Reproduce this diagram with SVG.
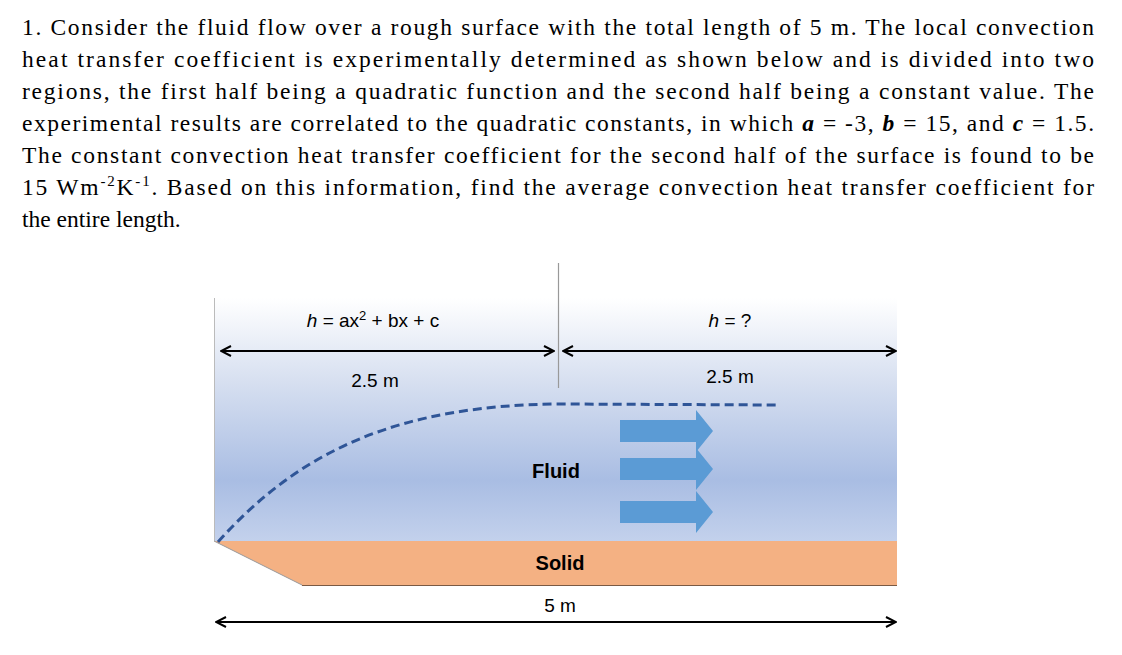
<svg xmlns="http://www.w3.org/2000/svg" width="1122" height="655" viewBox="0 0 1122 655">
<style>
.p{font-family:"Liberation Serif",serif;font-size:23.5px;fill:#000}
.s{font-family:"Liberation Sans",Arial,sans-serif;font-size:19px;fill:#000}
.b{font-family:"Liberation Sans",Arial,sans-serif;font-size:20px;font-weight:bold;fill:#000}
.dim{stroke:#000;stroke-width:2;fill:none;marker-start:url(#ah);marker-end:url(#ah)}
</style>
<defs>
<linearGradient id="fl" x1="0" y1="0" x2="0" y2="1">
<stop offset="0" stop-color="#ffffff"/>
<stop offset="0.35" stop-color="#d6dff0"/>
<stop offset="0.75" stop-color="#a9bde3"/>
<stop offset="1" stop-color="#c3d1ec"/>
</linearGradient>
<marker id="ah" viewBox="0 0 12 12" refX="11" refY="6" markerWidth="12" markerHeight="12" markerUnits="userSpaceOnUse" orient="auto-start-reverse">
<path d="M1,1 L11,6 L1,11" fill="none" stroke="#000" stroke-width="2"/>
</marker>
<path id="ba" d="M0,10 H76 V0 L93,21 L76,42 V32 H0 Z" fill="#5b9bd5"/>
</defs>
<rect width="1122" height="655" fill="#fff"/>
<g id="question">
<text class="p" x="22" y="35" textLength="1072" lengthAdjust="spacing">1. Consider the fluid flow over a rough surface with the total length of 5 m. The local convection</text>
<text class="p" x="22" y="67" textLength="1072" lengthAdjust="spacing">heat transfer coefficient is experimentally determined as shown below and is divided into two</text>
<text class="p" x="22" y="99" textLength="1072" lengthAdjust="spacing">regions, the first half being a quadratic function and the second half being a constant value. The</text>
<text class="p" x="22" y="131" textLength="1072" lengthAdjust="spacing">experimental results are correlated to the quadratic constants, in which <tspan font-weight="bold" font-style="italic">a</tspan> = -3, <tspan font-weight="bold" font-style="italic">b</tspan> = 15, and <tspan font-weight="bold" font-style="italic">c</tspan> = 1.5.</text>
<text class="p" x="22" y="163" textLength="1072" lengthAdjust="spacing">The constant convection heat transfer coefficient for the second half of the surface is found to be</text>
<text class="p" x="22" y="195" textLength="1072" lengthAdjust="spacing">15 Wm<tspan font-size="15" dy="-9">-2</tspan><tspan dy="9">K</tspan><tspan font-size="15" dy="-9">-1</tspan><tspan dy="9">. Based on this information, find the average convection heat transfer coefficient for</tspan></text>
<text class="p" x="22" y="227">the entire length.</text>
</g>
<g id="fluid">
<rect x="214" y="298" width="683" height="243" fill="url(#fl)"/>
<line x1="214.5" y1="298" x2="214.5" y2="541" stroke="#bbb" stroke-width="1"/>
<text class="b" x="556" y="478" text-anchor="middle">Fluid</text>
</g>
<g id="solid">
<path d="M214,541 H897 V585 H302 Z" fill="#f4b183"/>
<line x1="302" y1="585.5" x2="897" y2="585.5" stroke="#7a5a44" stroke-width="1"/>
<path d="M214,541 L302,585" stroke="#999" stroke-width="1" fill="none"/>
<text class="b" x="560" y="570" text-anchor="middle">Solid</text>
</g>
<g id="flow-arrows">
<use href="#ba" x="620" y="410"/>
<use href="#ba" x="620" y="448"/>
<use href="#ba" x="620" y="491"/>
</g>
<g id="boundary-layer">
<path d="M218,542 C300,450 400,405 560,404 L780,405" fill="none" stroke="#2f5597" stroke-width="3" stroke-dasharray="9,5"/>
</g>
<g id="connectors">
<line x1="558.5" y1="263" x2="558.5" y2="388" stroke="#999" stroke-width="1.2"/>
<line class="dim" x1="221" y1="351" x2="554" y2="351"/>
<line class="dim" x1="563" y1="351" x2="896" y2="351"/>
<line class="dim" x1="216" y1="622" x2="896" y2="622"/>
</g>
<g id="labels">
<text class="s" x="373" y="327" text-anchor="middle"><tspan font-style="italic">h</tspan> = ax<tspan font-size="13" dy="-7">2</tspan><tspan dy="7"> + bx + c</tspan></text>
<text class="s" x="730" y="327" text-anchor="middle"><tspan font-style="italic">h</tspan> = ?</text>
<text class="s" x="375" y="387" text-anchor="middle">2.5 m</text>
<text class="s" x="730" y="383" text-anchor="middle">2.5 m</text>
<text class="s" x="560" y="612" text-anchor="middle">5 m</text>
</g>
</svg>
